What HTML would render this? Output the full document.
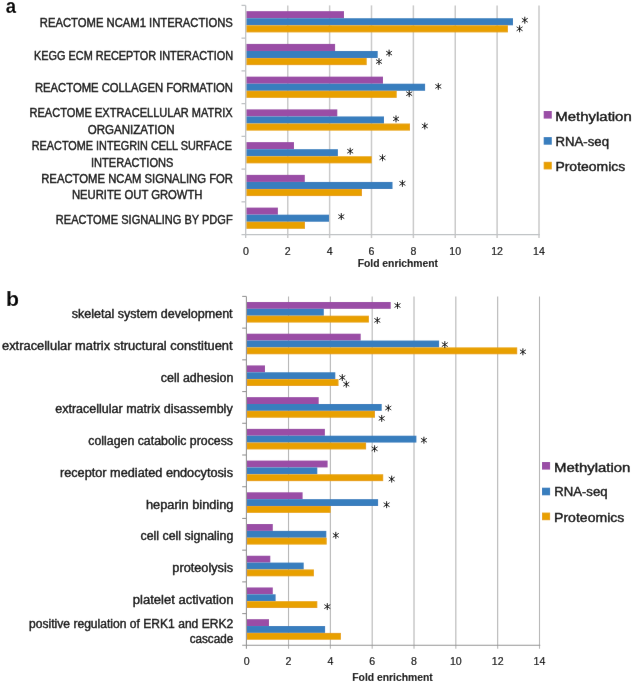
<!DOCTYPE html>
<html><head><meta charset="utf-8"><style>
html,body{margin:0;padding:0;background:#fff;}
body{width:633px;height:685px;position:relative;overflow:hidden;font-family:"Liberation Sans",sans-serif;}
</style></head><body><div style="position:absolute;left:0;top:0;width:633px;height:685px">
<svg width="633" height="685" viewBox="0 0 633 685" style="position:absolute;left:0;top:0">
<defs><filter id="bl" x="0" y="0" width="633" height="685" filterUnits="userSpaceOnUse"><feConvolveMatrix order="3" kernelMatrix="0.00087 0.02776 0.00087 0.02776 0.88549 0.02776 0.00087 0.02776 0.00087" edgeMode="duplicate" preserveAlpha="true"/></filter></defs>
<g filter="url(#bl)">
<rect width="633" height="685" fill="#fff"/>
<line x1="287.75" y1="5.40" x2="287.75" y2="238.08" stroke="#cacaca" stroke-width="1.5"/>
<line x1="329.63" y1="5.40" x2="329.63" y2="238.08" stroke="#cacaca" stroke-width="1.5"/>
<line x1="371.50" y1="5.40" x2="371.50" y2="238.08" stroke="#cacaca" stroke-width="1.5"/>
<line x1="413.38" y1="5.40" x2="413.38" y2="238.08" stroke="#cacaca" stroke-width="1.5"/>
<line x1="455.25" y1="5.40" x2="455.25" y2="238.08" stroke="#cacaca" stroke-width="1.5"/>
<line x1="497.12" y1="5.40" x2="497.12" y2="238.08" stroke="#cacaca" stroke-width="1.5"/>
<line x1="539.00" y1="5.40" x2="539.00" y2="238.08" stroke="#cacaca" stroke-width="1.5"/>
<rect x="246.30" y="11.16" width="97.70" height="7.07" fill="#9a4da6"/>
<rect x="246.30" y="18.23" width="266.70" height="7.07" fill="#377ebe"/>
<rect x="246.30" y="25.31" width="261.60" height="7.07" fill="#e8a000"/>
<rect x="246.30" y="43.90" width="88.80" height="7.07" fill="#9a4da6"/>
<rect x="246.30" y="50.97" width="131.40" height="7.07" fill="#377ebe"/>
<rect x="246.30" y="58.05" width="120.40" height="7.07" fill="#e8a000"/>
<rect x="246.30" y="76.64" width="136.70" height="7.07" fill="#9a4da6"/>
<rect x="246.30" y="83.71" width="178.80" height="7.07" fill="#377ebe"/>
<rect x="246.30" y="90.79" width="150.40" height="7.07" fill="#e8a000"/>
<rect x="246.30" y="109.38" width="91.00" height="7.07" fill="#9a4da6"/>
<rect x="246.30" y="116.45" width="137.70" height="7.07" fill="#377ebe"/>
<rect x="246.30" y="123.53" width="163.70" height="7.07" fill="#e8a000"/>
<rect x="246.30" y="142.12" width="47.70" height="7.07" fill="#9a4da6"/>
<rect x="246.30" y="149.19" width="91.60" height="7.07" fill="#377ebe"/>
<rect x="246.30" y="156.27" width="125.40" height="7.07" fill="#e8a000"/>
<rect x="246.30" y="174.86" width="58.50" height="7.07" fill="#9a4da6"/>
<rect x="246.30" y="181.93" width="146.20" height="7.07" fill="#377ebe"/>
<rect x="246.30" y="189.01" width="115.70" height="7.07" fill="#e8a000"/>
<rect x="246.30" y="207.60" width="31.60" height="7.07" fill="#9a4da6"/>
<rect x="246.30" y="214.67" width="82.70" height="7.07" fill="#377ebe"/>
<rect x="246.30" y="221.75" width="58.70" height="7.07" fill="#e8a000"/>
<line x1="245.70" y1="5.40" x2="245.70" y2="238.08" stroke="#bfc2c5" stroke-width="1.3"/>
<line x1="241.50" y1="234.58" x2="539.80" y2="234.58" stroke="#bfc2c5" stroke-width="1.3"/>
<line x1="241.50" y1="5.40" x2="245.70" y2="5.40" stroke="#bfc2c5" stroke-width="1.3"/>
<line x1="241.50" y1="38.14" x2="245.70" y2="38.14" stroke="#bfc2c5" stroke-width="1.3"/>
<line x1="241.50" y1="70.88" x2="245.70" y2="70.88" stroke="#bfc2c5" stroke-width="1.3"/>
<line x1="241.50" y1="103.62" x2="245.70" y2="103.62" stroke="#bfc2c5" stroke-width="1.3"/>
<line x1="241.50" y1="136.36" x2="245.70" y2="136.36" stroke="#bfc2c5" stroke-width="1.3"/>
<line x1="241.50" y1="169.10" x2="245.70" y2="169.10" stroke="#bfc2c5" stroke-width="1.3"/>
<line x1="241.50" y1="201.84" x2="245.70" y2="201.84" stroke="#bfc2c5" stroke-width="1.3"/>
<path d="M524.80 16.75V23.65M521.85 18.25L527.75 22.15M521.85 22.15L527.75 18.25" stroke="#111" stroke-width="1.0" fill="none"/><circle cx="524.80" cy="20.20" r="0.55" fill="#111"/>
<path d="M519.60 25.35V32.25M516.65 26.85L522.55 30.75M516.65 30.75L522.55 26.85" stroke="#111" stroke-width="1.0" fill="none"/><circle cx="519.60" cy="28.80" r="0.55" fill="#111"/>
<path d="M389.10 49.65V56.55M386.15 51.15L392.05 55.05M386.15 55.05L392.05 51.15" stroke="#111" stroke-width="1.0" fill="none"/><circle cx="389.10" cy="53.10" r="0.55" fill="#111"/>
<path d="M379.00 58.15V65.05M376.05 59.65L381.95 63.55M376.05 63.55L381.95 59.65" stroke="#111" stroke-width="1.0" fill="none"/><circle cx="379.00" cy="61.60" r="0.55" fill="#111"/>
<path d="M438.30 82.95V89.85M435.35 84.45L441.25 88.35M435.35 88.35L441.25 84.45" stroke="#111" stroke-width="1.0" fill="none"/><circle cx="438.30" cy="86.40" r="0.55" fill="#111"/>
<path d="M409.20 90.25V97.15M406.25 91.75L412.15 95.65M406.25 95.65L412.15 91.75" stroke="#111" stroke-width="1.0" fill="none"/><circle cx="409.20" cy="93.70" r="0.55" fill="#111"/>
<path d="M396.00 115.45V122.35M393.05 116.95L398.95 120.85M393.05 120.85L398.95 116.95" stroke="#111" stroke-width="1.0" fill="none"/><circle cx="396.00" cy="118.90" r="0.55" fill="#111"/>
<path d="M424.80 122.55V129.45M421.85 124.05L427.75 127.95M421.85 127.95L427.75 124.05" stroke="#111" stroke-width="1.0" fill="none"/><circle cx="424.80" cy="126.00" r="0.55" fill="#111"/>
<path d="M350.20 147.75V154.65M347.25 149.25L353.15 153.15M347.25 153.15L353.15 149.25" stroke="#111" stroke-width="1.0" fill="none"/><circle cx="350.20" cy="151.20" r="0.55" fill="#111"/>
<path d="M382.50 154.35V161.25M379.55 155.85L385.45 159.75M379.55 159.75L385.45 155.85" stroke="#111" stroke-width="1.0" fill="none"/><circle cx="382.50" cy="157.80" r="0.55" fill="#111"/>
<path d="M402.40 179.95V186.85M399.45 181.45L405.35 185.35M399.45 185.35L405.35 181.45" stroke="#111" stroke-width="1.0" fill="none"/><circle cx="402.40" cy="183.40" r="0.55" fill="#111"/>
<path d="M341.30 213.15V220.05M338.35 214.65L344.25 218.55M338.35 218.55L344.25 214.65" stroke="#111" stroke-width="1.0" fill="none"/><circle cx="341.30" cy="216.60" r="0.55" fill="#111"/>
<line x1="288.53" y1="296.40" x2="288.53" y2="648.82" stroke="#b6b6b6" stroke-width="1.1"/>
<line x1="330.36" y1="296.40" x2="330.36" y2="648.82" stroke="#b6b6b6" stroke-width="1.1"/>
<line x1="372.18" y1="296.40" x2="372.18" y2="648.82" stroke="#b6b6b6" stroke-width="1.1"/>
<line x1="414.01" y1="296.40" x2="414.01" y2="648.82" stroke="#b6b6b6" stroke-width="1.1"/>
<line x1="455.84" y1="296.40" x2="455.84" y2="648.82" stroke="#b6b6b6" stroke-width="1.1"/>
<line x1="497.67" y1="296.40" x2="497.67" y2="648.82" stroke="#b6b6b6" stroke-width="1.1"/>
<line x1="539.50" y1="296.40" x2="539.50" y2="648.82" stroke="#b6b6b6" stroke-width="1.1"/>
<rect x="247.00" y="301.98" width="143.70" height="6.85" fill="#9a4da6"/>
<rect x="247.00" y="308.83" width="76.80" height="6.85" fill="#377ebe"/>
<rect x="247.00" y="315.69" width="121.90" height="6.85" fill="#e8a000"/>
<rect x="247.00" y="333.70" width="113.70" height="6.85" fill="#9a4da6"/>
<rect x="247.00" y="340.55" width="192.10" height="6.85" fill="#377ebe"/>
<rect x="247.00" y="347.41" width="270.20" height="6.85" fill="#e8a000"/>
<rect x="247.00" y="365.42" width="18.00" height="6.85" fill="#9a4da6"/>
<rect x="247.00" y="372.27" width="88.30" height="6.85" fill="#377ebe"/>
<rect x="247.00" y="379.13" width="91.50" height="6.85" fill="#e8a000"/>
<rect x="247.00" y="397.14" width="71.70" height="6.85" fill="#9a4da6"/>
<rect x="247.00" y="403.99" width="134.70" height="6.85" fill="#377ebe"/>
<rect x="247.00" y="410.85" width="128.00" height="6.85" fill="#e8a000"/>
<rect x="247.00" y="428.86" width="77.90" height="6.85" fill="#9a4da6"/>
<rect x="247.00" y="435.71" width="169.40" height="6.85" fill="#377ebe"/>
<rect x="247.00" y="442.57" width="119.10" height="6.85" fill="#e8a000"/>
<rect x="247.00" y="460.58" width="80.60" height="6.85" fill="#9a4da6"/>
<rect x="247.00" y="467.43" width="70.30" height="6.85" fill="#377ebe"/>
<rect x="247.00" y="474.29" width="136.20" height="6.85" fill="#e8a000"/>
<rect x="247.00" y="492.30" width="55.60" height="6.85" fill="#9a4da6"/>
<rect x="247.00" y="499.15" width="131.10" height="6.85" fill="#377ebe"/>
<rect x="247.00" y="506.01" width="83.60" height="6.85" fill="#e8a000"/>
<rect x="247.00" y="524.02" width="25.80" height="6.85" fill="#9a4da6"/>
<rect x="247.00" y="530.87" width="79.30" height="6.85" fill="#377ebe"/>
<rect x="247.00" y="537.73" width="79.70" height="6.85" fill="#e8a000"/>
<rect x="247.00" y="555.74" width="23.30" height="6.85" fill="#9a4da6"/>
<rect x="247.00" y="562.59" width="56.70" height="6.85" fill="#377ebe"/>
<rect x="247.00" y="569.45" width="66.90" height="6.85" fill="#e8a000"/>
<rect x="247.00" y="587.46" width="25.80" height="6.85" fill="#9a4da6"/>
<rect x="247.00" y="594.31" width="28.60" height="6.85" fill="#377ebe"/>
<rect x="247.00" y="601.17" width="70.30" height="6.85" fill="#e8a000"/>
<rect x="247.00" y="619.18" width="22.00" height="6.85" fill="#9a4da6"/>
<rect x="247.00" y="626.03" width="78.10" height="6.85" fill="#377ebe"/>
<rect x="247.00" y="632.89" width="93.90" height="6.85" fill="#e8a000"/>
<line x1="246.40" y1="296.40" x2="246.40" y2="648.82" stroke="#959595" stroke-width="1.1"/>
<line x1="242.20" y1="645.32" x2="540.30" y2="645.32" stroke="#959595" stroke-width="1.1"/>
<line x1="242.20" y1="296.40" x2="246.40" y2="296.40" stroke="#959595" stroke-width="1.1"/>
<line x1="242.20" y1="328.12" x2="246.40" y2="328.12" stroke="#959595" stroke-width="1.1"/>
<line x1="242.20" y1="359.84" x2="246.40" y2="359.84" stroke="#959595" stroke-width="1.1"/>
<line x1="242.20" y1="391.56" x2="246.40" y2="391.56" stroke="#959595" stroke-width="1.1"/>
<line x1="242.20" y1="423.28" x2="246.40" y2="423.28" stroke="#959595" stroke-width="1.1"/>
<line x1="242.20" y1="455.00" x2="246.40" y2="455.00" stroke="#959595" stroke-width="1.1"/>
<line x1="242.20" y1="486.72" x2="246.40" y2="486.72" stroke="#959595" stroke-width="1.1"/>
<line x1="242.20" y1="518.44" x2="246.40" y2="518.44" stroke="#959595" stroke-width="1.1"/>
<line x1="242.20" y1="550.16" x2="246.40" y2="550.16" stroke="#959595" stroke-width="1.1"/>
<line x1="242.20" y1="581.88" x2="246.40" y2="581.88" stroke="#959595" stroke-width="1.1"/>
<line x1="242.20" y1="613.60" x2="246.40" y2="613.60" stroke="#959595" stroke-width="1.1"/>
<path d="M397.50 302.05V308.95M394.55 303.55L400.45 307.45M394.55 307.45L400.45 303.55" stroke="#111" stroke-width="1.0" fill="none"/><circle cx="397.50" cy="305.50" r="0.55" fill="#111"/>
<path d="M377.30 316.95V323.85M374.35 318.45L380.25 322.35M374.35 322.35L380.25 318.45" stroke="#111" stroke-width="1.0" fill="none"/><circle cx="377.30" cy="320.40" r="0.55" fill="#111"/>
<path d="M444.80 341.15V348.05M441.85 342.65L447.75 346.55M441.85 346.55L447.75 342.65" stroke="#111" stroke-width="1.0" fill="none"/><circle cx="444.80" cy="344.60" r="0.55" fill="#111"/>
<path d="M522.90 348.35V355.25M519.95 349.85L525.85 353.75M519.95 353.75L525.85 349.85" stroke="#111" stroke-width="1.0" fill="none"/><circle cx="522.90" cy="351.80" r="0.55" fill="#111"/>
<path d="M342.30 374.15V381.05M339.35 375.65L345.25 379.55M339.35 379.55L345.25 375.65" stroke="#111" stroke-width="1.0" fill="none"/><circle cx="342.30" cy="377.60" r="0.55" fill="#111"/>
<path d="M346.30 380.75V387.65M343.35 382.25L349.25 386.15M343.35 386.15L349.25 382.25" stroke="#111" stroke-width="1.0" fill="none"/><circle cx="346.30" cy="384.20" r="0.55" fill="#111"/>
<path d="M388.30 404.55V411.45M385.35 406.05L391.25 409.95M385.35 409.95L391.25 406.05" stroke="#111" stroke-width="1.0" fill="none"/><circle cx="388.30" cy="408.00" r="0.55" fill="#111"/>
<path d="M381.70 414.95V421.85M378.75 416.45L384.65 420.35M378.75 420.35L384.65 416.45" stroke="#111" stroke-width="1.0" fill="none"/><circle cx="381.70" cy="418.40" r="0.55" fill="#111"/>
<path d="M423.90 436.75V443.65M420.95 438.25L426.85 442.15M420.95 442.15L426.85 438.25" stroke="#111" stroke-width="1.0" fill="none"/><circle cx="423.90" cy="440.20" r="0.55" fill="#111"/>
<path d="M374.60 445.35V452.25M371.65 446.85L377.55 450.75M371.65 450.75L377.55 446.85" stroke="#111" stroke-width="1.0" fill="none"/><circle cx="374.60" cy="448.80" r="0.55" fill="#111"/>
<path d="M391.70 475.65V482.55M388.75 477.15L394.65 481.05M388.75 481.05L394.65 477.15" stroke="#111" stroke-width="1.0" fill="none"/><circle cx="391.70" cy="479.10" r="0.55" fill="#111"/>
<path d="M386.60 501.25V508.15M383.65 502.75L389.55 506.65M383.65 506.65L389.55 502.75" stroke="#111" stroke-width="1.0" fill="none"/><circle cx="386.60" cy="504.70" r="0.55" fill="#111"/>
<path d="M335.80 531.85V538.75M332.85 533.35L338.75 537.25M332.85 537.25L338.75 533.35" stroke="#111" stroke-width="1.0" fill="none"/><circle cx="335.80" cy="535.30" r="0.55" fill="#111"/>
<path d="M327.30 603.15V610.05M324.35 604.65L330.25 608.55M324.35 608.55L330.25 604.65" stroke="#111" stroke-width="1.0" fill="none"/><circle cx="327.30" cy="606.60" r="0.55" fill="#111"/>
<rect x="543.7" y="111.0" width="8.1" height="7.6" fill="#9a4da6"/>
<rect x="543.7" y="137.1" width="8.1" height="7.6" fill="#377ebe"/>
<rect x="543.7" y="161.8" width="8.1" height="7.6" fill="#e8a000"/>
<rect x="542.0" y="462.0" width="8.1" height="7.6" fill="#9a4da6"/>
<rect x="542.0" y="487.7" width="8.1" height="7.6" fill="#377ebe"/>
<rect x="542.0" y="512.6" width="8.1" height="7.6" fill="#e8a000"/>
<g opacity="0.995">
<text x="245.88" y="254.5" text-anchor="middle" font-family="Liberation Sans" font-size="10.6" fill="#0d0d0d" stroke="#0d0d0d" stroke-width="0.2">0</text>
<text x="287.75" y="254.5" text-anchor="middle" font-family="Liberation Sans" font-size="10.6" fill="#0d0d0d" stroke="#0d0d0d" stroke-width="0.2">2</text>
<text x="329.63" y="254.5" text-anchor="middle" font-family="Liberation Sans" font-size="10.6" fill="#0d0d0d" stroke="#0d0d0d" stroke-width="0.2">4</text>
<text x="371.50" y="254.5" text-anchor="middle" font-family="Liberation Sans" font-size="10.6" fill="#0d0d0d" stroke="#0d0d0d" stroke-width="0.2">6</text>
<text x="413.38" y="254.5" text-anchor="middle" font-family="Liberation Sans" font-size="10.6" fill="#0d0d0d" stroke="#0d0d0d" stroke-width="0.2">8</text>
<text x="455.25" y="254.5" text-anchor="middle" font-family="Liberation Sans" font-size="10.6" fill="#0d0d0d" stroke="#0d0d0d" stroke-width="0.2">10</text>
<text x="497.12" y="254.5" text-anchor="middle" font-family="Liberation Sans" font-size="10.6" fill="#0d0d0d" stroke="#0d0d0d" stroke-width="0.2">12</text>
<text x="539.00" y="254.5" text-anchor="middle" font-family="Liberation Sans" font-size="10.6" fill="#0d0d0d" stroke="#0d0d0d" stroke-width="0.2">14</text>
<text x="246.70" y="664.9" text-anchor="middle" font-family="Liberation Sans" font-size="10.6" fill="#0d0d0d" stroke="#0d0d0d" stroke-width="0.2">0</text>
<text x="288.53" y="664.9" text-anchor="middle" font-family="Liberation Sans" font-size="10.6" fill="#0d0d0d" stroke="#0d0d0d" stroke-width="0.2">2</text>
<text x="330.36" y="664.9" text-anchor="middle" font-family="Liberation Sans" font-size="10.6" fill="#0d0d0d" stroke="#0d0d0d" stroke-width="0.2">4</text>
<text x="372.18" y="664.9" text-anchor="middle" font-family="Liberation Sans" font-size="10.6" fill="#0d0d0d" stroke="#0d0d0d" stroke-width="0.2">6</text>
<text x="414.01" y="664.9" text-anchor="middle" font-family="Liberation Sans" font-size="10.6" fill="#0d0d0d" stroke="#0d0d0d" stroke-width="0.2">8</text>
<text x="455.84" y="664.9" text-anchor="middle" font-family="Liberation Sans" font-size="10.6" fill="#0d0d0d" stroke="#0d0d0d" stroke-width="0.2">10</text>
<text x="497.67" y="664.9" text-anchor="middle" font-family="Liberation Sans" font-size="10.6" fill="#0d0d0d" stroke="#0d0d0d" stroke-width="0.2">12</text>
<text x="539.50" y="664.9" text-anchor="middle" font-family="Liberation Sans" font-size="10.6" fill="#0d0d0d" stroke="#0d0d0d" stroke-width="0.2">14</text>
<text transform="translate(39.80 27.4) scale(0.9468 1)" font-family="Liberation Sans" font-size="11.9" fill="#0d0d0d" stroke="#0d0d0d" stroke-width="0.4">REACTOME NCAM1 INTERACTIONS</text>
<text transform="translate(34.03 59.7) scale(0.9165 1)" font-family="Liberation Sans" font-size="11.9" fill="#0d0d0d" stroke="#0d0d0d" stroke-width="0.4">KEGG ECM RECEPTOR INTERACTION</text>
<text transform="translate(34.90 92.3) scale(0.9482 1)" font-family="Liberation Sans" font-size="11.9" fill="#0d0d0d" stroke="#0d0d0d" stroke-width="0.4">REACTOME COLLAGEN FORMATION</text>
<text transform="translate(29.52 117.2) scale(0.9282 1)" font-family="Liberation Sans" font-size="11.9" fill="#0d0d0d" stroke="#0d0d0d" stroke-width="0.4">REACTOME EXTRACELLULAR MATRIX</text>
<text transform="translate(87.74 133.8) scale(0.9699 1)" font-family="Liberation Sans" font-size="11.9" fill="#0d0d0d" stroke="#0d0d0d" stroke-width="0.4">ORGANIZATION</text>
<text transform="translate(31.73 149.8) scale(0.9136 1)" font-family="Liberation Sans" font-size="11.9" fill="#0d0d0d" stroke="#0d0d0d" stroke-width="0.4">REACTOME INTEGRIN CELL SURFACE</text>
<text transform="translate(91.00 166.5) scale(0.9302 1)" font-family="Liberation Sans" font-size="11.9" fill="#0d0d0d" stroke="#0d0d0d" stroke-width="0.4">INTERACTIONS</text>
<text transform="translate(41.20 182.6) scale(0.9499 1)" font-family="Liberation Sans" font-size="11.9" fill="#0d0d0d" stroke="#0d0d0d" stroke-width="0.4">REACTOME NCAM SIGNALING FOR</text>
<text transform="translate(71.90 199.3) scale(0.9483 1)" font-family="Liberation Sans" font-size="11.9" fill="#0d0d0d" stroke="#0d0d0d" stroke-width="0.4">NEURITE OUT GROWTH</text>
<text transform="translate(55.82 224.0) scale(0.9285 1)" font-family="Liberation Sans" font-size="11.9" fill="#0d0d0d" stroke="#0d0d0d" stroke-width="0.4">REACTOME SIGNALING BY PDGF</text>
<text transform="translate(71.75 318.0) scale(1.0196 1)" font-family="Liberation Sans" font-size="12.3" fill="#0d0d0d" stroke="#0d0d0d" stroke-width="0.4">skeletal system development</text>
<text transform="translate(1.98 349.8) scale(1.0485 1)" font-family="Liberation Sans" font-size="12.3" fill="#0d0d0d" stroke="#0d0d0d" stroke-width="0.4">extracellular matrix structural constituent</text>
<text transform="translate(160.80 381.6) scale(1.0125 1)" font-family="Liberation Sans" font-size="12.3" fill="#0d0d0d" stroke="#0d0d0d" stroke-width="0.4">cell adhesion</text>
<text transform="translate(55.20 413.3) scale(1.0189 1)" font-family="Liberation Sans" font-size="12.3" fill="#0d0d0d" stroke="#0d0d0d" stroke-width="0.4">extracellular matrix disassembly</text>
<text transform="translate(88.31 445.0) scale(1.0041 1)" font-family="Liberation Sans" font-size="12.3" fill="#0d0d0d" stroke="#0d0d0d" stroke-width="0.4">collagen catabolic process</text>
<text transform="translate(59.94 476.8) scale(1.0342 1)" font-family="Liberation Sans" font-size="12.3" fill="#0d0d0d" stroke="#0d0d0d" stroke-width="0.4">receptor mediated endocytosis</text>
<text transform="translate(145.93 508.5) scale(1.0412 1)" font-family="Liberation Sans" font-size="12.3" fill="#0d0d0d" stroke="#0d0d0d" stroke-width="0.4">heparin binding</text>
<text transform="translate(140.50 540.3) scale(1.0075 1)" font-family="Liberation Sans" font-size="12.3" fill="#0d0d0d" stroke="#0d0d0d" stroke-width="0.4">cell cell signaling</text>
<text transform="translate(172.34 571.8) scale(1.0349 1)" font-family="Liberation Sans" font-size="12.3" fill="#0d0d0d" stroke="#0d0d0d" stroke-width="0.4">proteolysis</text>
<text transform="translate(132.82 603.5) scale(1.0597 1)" font-family="Liberation Sans" font-size="12.3" fill="#0d0d0d" stroke="#0d0d0d" stroke-width="0.4">platelet activation</text>
<text transform="translate(29.07 627.7) scale(0.9828 1)" font-family="Liberation Sans" font-size="12.3" fill="#0d0d0d" stroke="#0d0d0d" stroke-width="0.4">positive regulation of ERK1 and ERK2</text>
<text transform="translate(189.63 643.3) scale(0.9515 1)" font-family="Liberation Sans" font-size="12.3" fill="#0d0d0d" stroke="#0d0d0d" stroke-width="0.4">cascade</text>
<text transform="translate(555.30 120.5) scale(1.1513 1)" font-family="Liberation Sans" font-size="13.0" fill="#0d0d0d" stroke="#0d0d0d" stroke-width="0.4">Methylation</text>
<text transform="translate(555.44 146.0) scale(1.0164 1)" font-family="Liberation Sans" font-size="13.0" fill="#0d0d0d" stroke="#0d0d0d" stroke-width="0.4">RNA-seq</text>
<text transform="translate(555.38 171.4) scale(1.0757 1)" font-family="Liberation Sans" font-size="13.0" fill="#0d0d0d" stroke="#0d0d0d" stroke-width="0.4">Proteomics</text>
<text transform="translate(554.00 471.7) scale(1.1498 1)" font-family="Liberation Sans" font-size="13.0" fill="#0d0d0d" stroke="#0d0d0d" stroke-width="0.4">Methylation</text>
<text transform="translate(554.15 496.4) scale(1.0124 1)" font-family="Liberation Sans" font-size="13.0" fill="#0d0d0d" stroke="#0d0d0d" stroke-width="0.4">RNA-seq</text>
<text transform="translate(554.07 521.6) scale(1.0819 1)" font-family="Liberation Sans" font-size="13.0" fill="#0d0d0d" stroke="#0d0d0d" stroke-width="0.4">Proteomics</text>
<text transform="translate(357.68 266.8) scale(0.9577 1)" font-family="Liberation Sans" font-size="10.8" font-weight="bold" fill="#0d0d0d" stroke="#0d0d0d" stroke-width="0.1">Fold enrichment</text>
<text transform="translate(352.28 681.4) scale(0.9589 1)" font-family="Liberation Sans" font-size="10.8" font-weight="bold" fill="#0d0d0d" stroke="#0d0d0d" stroke-width="0.1">Fold enrichment</text>
<text transform="translate(5.83 13.4) scale(0.9136 1)" font-family="Liberation Sans" font-size="20.3" font-weight="bold" fill="#000" stroke="#000" stroke-width="0">a</text>
<text transform="translate(6.02 305.9) scale(1.0686 1)" font-family="Liberation Sans" font-size="20.0" font-weight="bold" fill="#000" stroke="#000" stroke-width="0">b</text>
</g>
</g>
</svg>
</div></body></html>
